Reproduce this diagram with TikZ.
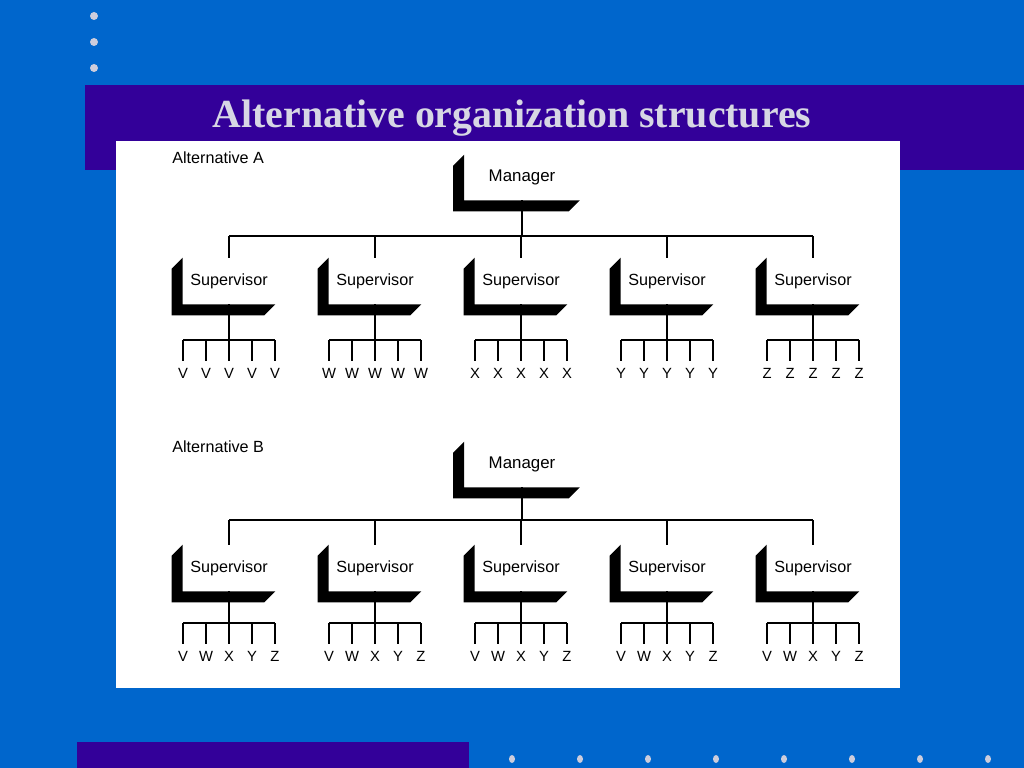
\documentclass[tikz,border=0pt]{standalone}
\usepackage{fontspec}
\setmainfont{Liberation Serif}
\setsansfont{Liberation Sans}
\definecolor{slideblue}{RGB}{0,102,204}
\definecolor{slidepurple}{RGB}{51,0,153}
\definecolor{dotgrey}{RGB}{205,205,220}
\definecolor{titlegrey}{RGB}{215,215,228}
\newcommand{\orgshadow}[1]{\fill [black] (#1.north west) -- ++(-11,11) -- ([shift={(-11,11)}]#1.south west) -- ([shift={(-11,11)}]#1.south east) -- (#1.south east) -- (#1.south west) -- cycle;}
\begin{document}
\begin{tikzpicture}[x=0.025cm, y=-0.025cm,
        orgline/.style={line width=1.2pt},
        mgrbox/.style={fill=white, inner sep=0pt, minimum width=2.875cm, minimum height=1.125cm, font=\sffamily\fontsize{12}{14}\selectfont},
        supbox/.style={fill=white, inner sep=0pt, minimum width=2.3cm, minimum height=1.15cm, font=\sffamily\fontsize{11.5}{13}\selectfont},
        leaf/.style={anchor=north, inner xsep=0pt, inner ysep=5pt, text height=7.2pt, text depth=0pt, font=\sffamily\fontsize{10.5}{12}\selectfont},
        altlabel/.style={anchor=west, inner sep=0pt, font=\sffamily\fontsize{11.5}{13}\selectfont}]
    \fill [slideblue] (0,0) rectangle (1024,768);
    \foreach \y in {16,42,68}
        \fill [dotgrey] (94,\y) circle (4);
    \fill [slidepurple] (85,85) rectangle (1024,170);
    \node [anchor=base, text=titlegrey, font=\rmfamily\bfseries\fontsize{28.3}{32}\selectfont] (title) at (512,128) {Alternative organization structures};
    \fill [white] (116,141) rectangle (900,688);
    \fill [slidepurple] (77,742) rectangle (469,768);
    \foreach \x in {512,580,...,988}
        \fill [dotgrey] (\x,759) ellipse (3 and 4);
    \node [altlabel] (altA) at (172,158) {Alternative A};
    \node [mgrbox] (mgrA) at (522,177.5) {Manager};
    \orgshadow{mgrA}
    \coordinate (topbusA) at (0,236);
    \foreach \i/\x/\l in {1/229/V,2/375/W,3/521/X,4/667/Y,5/813/Z} {
        \node [supbox] (supA\i) at (\x,281) {Supervisor};
        \orgshadow{supA\i}
        \draw [orgline] (supA\i.north) -- (supA\i.north |- topbusA);
        \coordinate (legA\i) at (\x,340);
        \foreach \j/\dx in {1/-46,2/-23,3/0,4/23,5/46}
            \node [leaf] (leafA\i\j) at (\x+\dx,361) {\l};
        \draw [orgline] (supA\i.south) -- (legA\i);
        \draw [orgline] (leafA\i1.north |- legA\i) -- (leafA\i5.north |- legA\i);
        \foreach \j in {1,...,5}
            \draw [orgline] (leafA\i\j.north |- legA\i) -- (leafA\i\j.north);
    }
    \draw [orgline] (supA1.north |- topbusA) -- (supA5.north |- topbusA);
    \draw [orgline] (mgrA.south) -- (mgrA.south |- topbusA);
    \node [altlabel] (altB) at (172,447) {Alternative B};
    \node [mgrbox] (mgrB) at (522,464.5) {Manager};
    \orgshadow{mgrB}
    \coordinate (topbusB) at (0,520);
    \foreach \i/\x in {1/229,2/375,3/521,4/667,5/813} {
        \node [supbox] (supB\i) at (\x,568) {Supervisor};
        \orgshadow{supB\i}
        \draw [orgline] (supB\i.north) -- (supB\i.north |- topbusB);
        \coordinate (legB\i) at (\x,623);
        \foreach \j/\dx/\l in {1/-46/V,2/-23/W,3/0/X,4/23/Y,5/46/Z}
            \node [leaf] (leafB\i\j) at (\x+\dx,644) {\l};
        \draw [orgline] (supB\i.south) -- (legB\i);
        \draw [orgline] (leafB\i1.north |- legB\i) -- (leafB\i5.north |- legB\i);
        \foreach \j in {1,...,5}
            \draw [orgline] (leafB\i\j.north |- legB\i) -- (leafB\i\j.north);
    }
    \draw [orgline] (supB1.north |- topbusB) -- (supB5.north |- topbusB);
    \draw [orgline] (mgrB.south) -- (mgrB.south |- topbusB);
\end{tikzpicture}
\end{document}
